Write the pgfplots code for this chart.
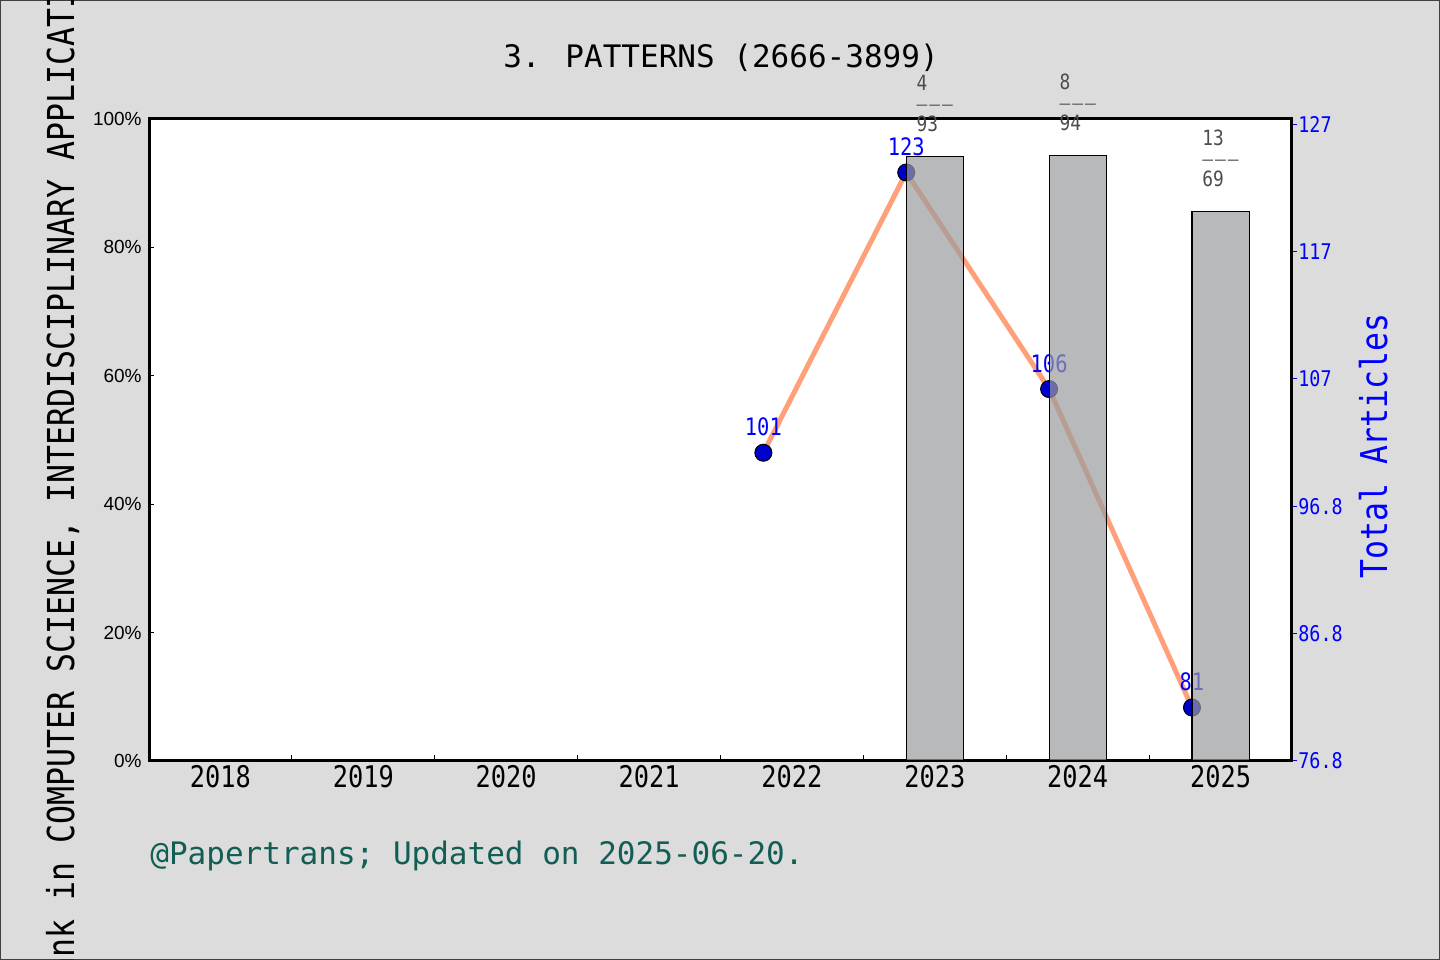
\documentclass[border=0pt]{standalone}
\usepackage{fontspec}
\setmainfont{Liberation Sans}
\newfontfamily\hei{DejaVu Sans Mono}
\newfontfamily\heiN[FakeStretch=0.85]{DejaVu Sans Mono}
\usepackage{pgfplots}
\pgfplotsset{compat=1.18}
\definecolor{bgc}{RGB}{220,220,220}
\definecolor{foot}{RGB}{18,94,84}
\definecolor{annot}{RGB}{77,77,77}
\definecolor{barc}{RGB}{155,156,158}
\definecolor{lsalmon}{RGB}{255,160,122}
\definecolor{mblue}{RGB}{0,0,205}
\newcommand{\dsh}{{\color{annot!80}–\kern1bp–\kern1bp–}}
\begin{document}
\begin{tikzpicture}
\fill[bgc] (0,0) rectangle (720bp,480bp);
\draw[black!75, line width=0.6bp] (0.3bp,0.3bp) rectangle (719.7bp,479.7bp);
\fill[white] (74.5bp,99.5bp) rectangle (646bp,420.5bp);
% right axis: total articles (line)
\begin{axis}[
  at={(74.5bp,99.5bp)}, anchor=south west, scale only axis,
  width=571.5bp, height=321bp,
  xmin=-0.5, xmax=7.5, ymin=76.8, ymax=127.2,
  hide x axis,
  axis y line*=right,
  y axis line style={draw=none},
  ytick={76.8,86.8,96.8,106.8,116.8,126.8},
  yticklabels={76.8,86.8,96.8,107,117,127},
  ytick align=outside,
  major tick length=2.5bp,
  ytick style={blue, line width=0.5bp},
  yticklabel style={font=\heiN\fontsize{10.8bp}{12bp}\selectfont, text=blue, inner sep=0pt, xshift=0.5bp},
  clip=false,
]
\addplot[color=lsalmon, line width=2.5bp, mark=*, mark size=4.25bp,
  mark options={fill=mblue, draw=black, line width=0.5bp},
  nodes near coords, point meta=explicit symbolic,
  every node near coord/.append style={anchor=south, inner sep=0pt, yshift=8bp,
    font=\heiN\fontsize{12bp}{14bp}\selectfont, text=blue}]
  coordinates {(3.8,101)[101] (4.8,123)[123] (5.8,106)[106] (6.8,81)[81]};
\end{axis}
% left axis: rank percentage (bars)
\begin{axis}[
  at={(74.5bp,99.5bp)}, anchor=south west, scale only axis,
  width=571.5bp, height=321bp,
  xmin=-0.5, xmax=7.5, ymin=0, ymax=100,
  axis line style={line width=1.5bp, black},
  xtick={0,1,2,3,4,5,6,7},
  xticklabels={2018,2019,2020,2021,2022,2023,2024,2025},
  minor xtick={0.5,1.5,2.5,3.5,4.5,5.5,6.5},
  xtick pos=bottom, ytick pos=left,
  tick align=inside,
  every major x tick/.append style={draw=none},
  minor tick length=3bp, major tick length=2.5bp,
  tick style={black, line width=0.5bp},
  ytick={0,20,40,60,80,100},
  yticklabels={0\%,20\%,40\%,60\%,80\%,100\%},
  xticklabel style={font=\heiN\fontsize{14.9bp}{16bp}\selectfont, inner sep=0pt, anchor=north, yshift=-2.2bp},
  yticklabel style={font=\fontsize{9.5bp}{11bp}\selectfont, inner sep=0pt, xshift=-3.5bp},
  clip=false,
]
\addplot[ybar, bar width=0.4, fill=barc, fill opacity=0.7, draw=black, line width=0.6bp]
  coordinates {(5,94.15) (6,94.3) (7,85.6)};
\tikzset{annotn/.style={anchor=south, align=left, inner sep=0pt, yshift=12bp,
  font=\heiN\fontsize{10.5bp}{10.35bp}\selectfont, text=annot}}
\node[annotn] at (axis cs:5,94.15) {4\\\dsh\\93};
\node[annotn] at (axis cs:6,94.3) {8\\\dsh\\94};
\node[annotn] at (axis cs:7,85.6) {13\\\dsh\\69};
\end{axis}
\node[anchor=base, inner sep=0pt, font=\hei\fontsize{15.5bp}{18bp}\selectfont] at (360.5bp,446.3bp) {3. PATTERNS (2666-3899)};
\node[anchor=base west, inner sep=0pt, text=foot, font=\hei\fontsize{15.5bp}{18bp}\selectfont] at (75bp,47.5bp) {@Papertrans; Updated on 2025-06-20.};
\node[rotate=90, anchor=base, inner sep=0pt, font=\heiN\fontsize{18.55bp}{20bp}\selectfont] at (37bp,248bp) {Rank in COMPUTER SCIENCE, INTERDISCIPLINARY APPLICATIONS};
\node[rotate=90, anchor=base, inner sep=0pt, text=blue, font=\heiN\fontsize{18.5bp}{20bp}\selectfont] at (693.5bp,257bp) {Total Articles};
\pgfresetboundingbox
\useasboundingbox (0,0) rectangle (720bp,480bp);
\end{tikzpicture}
\end{document}
